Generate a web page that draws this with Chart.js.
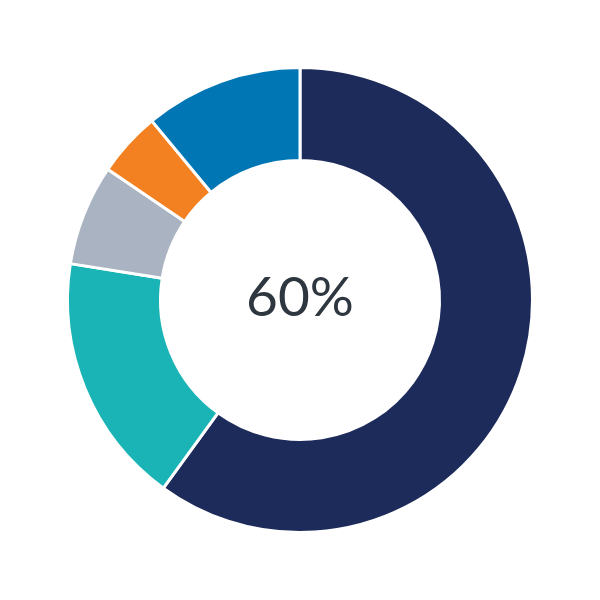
<!DOCTYPE html>
<html lang="en">
<head>
    <meta charset="UTF-8">
    <title>Doughnut 60%</title>
    <script src="https://cdn.jsdelivr.net/npm/chart.js"></script>
    <style>
        html, body { margin: 0; padding: 0; background: #fff; }
        #wrap { width: 600px; height: 600px; }
    </style>
</head>
<body>
    <div id="wrap"><canvas id="donut"></canvas></div>

    <script>
        // slices, clockwise from 12 o'clock
        const labels = ['Navy', 'Teal', 'Gray', 'Orange', 'Blue'];
        const values = [60, 17.5, 7, 4.5, 11];
        const colors = ['#1c2b5a', '#1bb4b6', '#a9b3c1', '#f38121', '#0176b5'];
        const centerText = '60%';

        // label in the hole
        const centerLabel = {
            id: 'centerLabel',
            afterDraw(chart) {
                const arc = chart.getDatasetMeta(0).data[0];
                const c = chart.ctx;
                c.save();
                c.font = '400 55px Lato';
                c.fillStyle = '#2e3640';
                c.textAlign = 'center';
                c.textBaseline = 'middle';
                c.fillText(centerText, arc.x, arc.y - 2);
                c.restore();
            }
        };

        new Chart(document.getElementById('donut'), {
            type: 'doughnut',
            data: {
                labels: labels,
                datasets: [{
                    data: values,
                    backgroundColor: colors,
                    borderColor: '#ffffff',
                    borderWidth: 3
                }]
            },
            options: {
                responsive: true,
                maintainAspectRatio: false,
                animation: false,
                cutout: '60%',
                layout: { padding: 66 },
                plugins: {
                    legend: { display: false },
                    tooltip: { enabled: false }
                }
            },
            plugins: [centerLabel]
        });
    </script>
</body>
</html>
